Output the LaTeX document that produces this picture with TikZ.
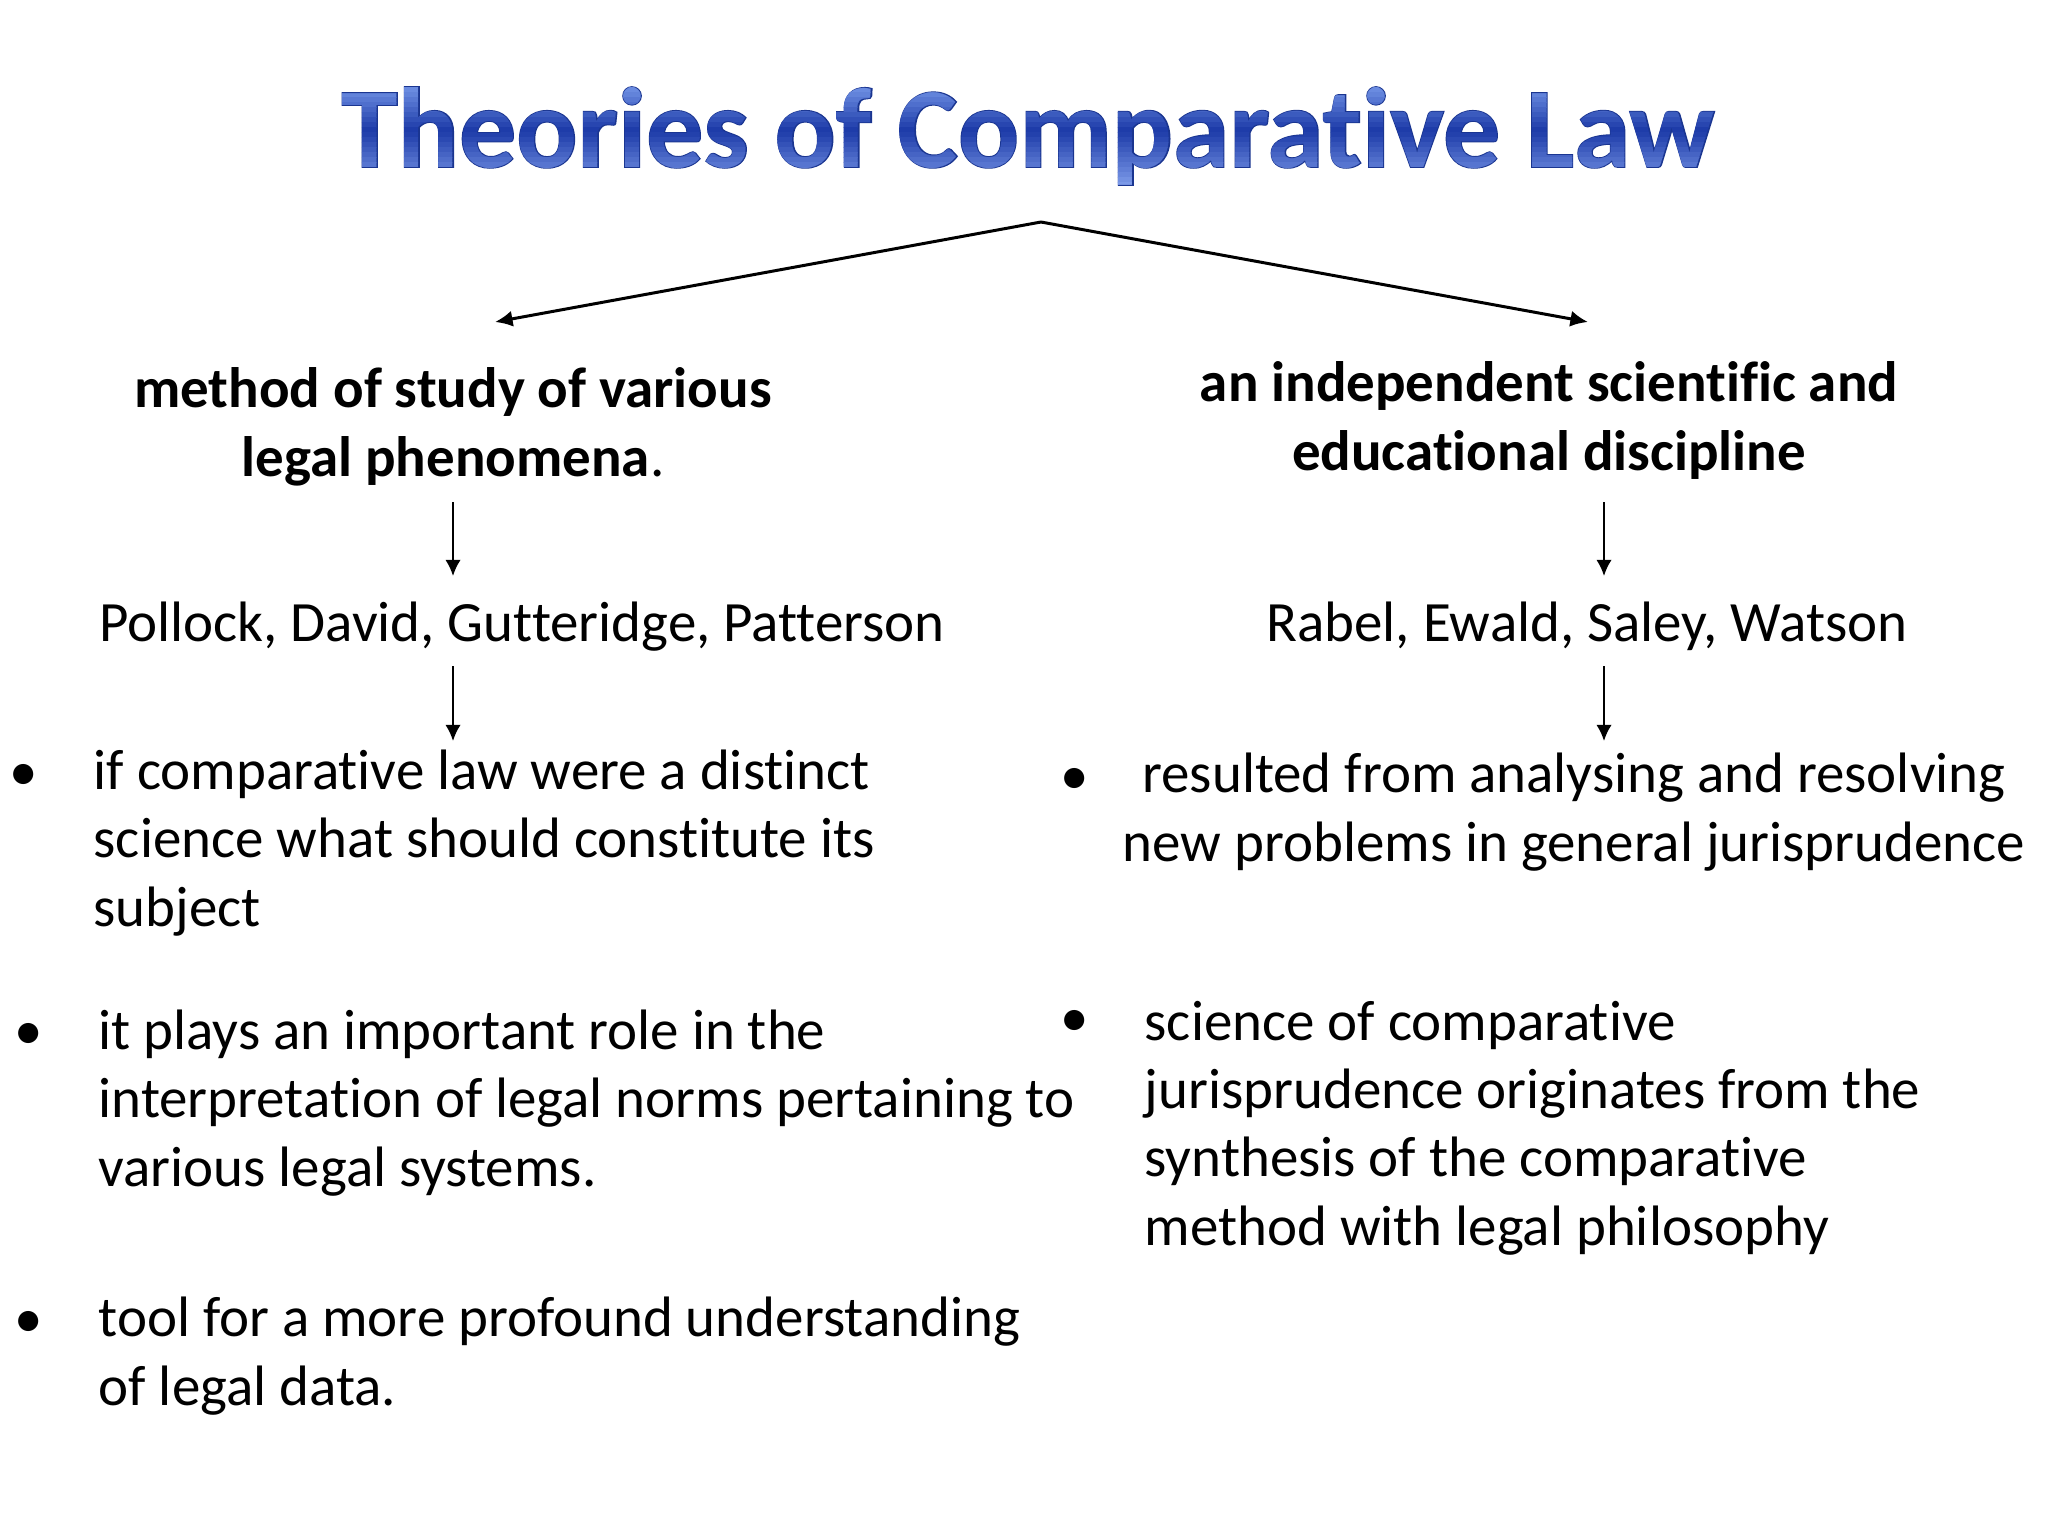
\documentclass[tikz,border=0pt]{standalone}
\usepackage{fontspec}
\setmainfont{Carlito}[Ligatures={NoCommon,NoRare,NoDiscretionary}]
\newfontfamily\titleoutlinefont{Carlito}[Ligatures={NoCommon,NoRare,NoDiscretionary},BoldFeatures={FakeBold=1.6}]
\usetikzlibrary{arrows.meta}
\definecolor{ttop}{HTML}{6A8BE0}
\definecolor{tmid}{HTML}{1C3AA8}
\definecolor{tbot}{HTML}{8AA8F2}
\definecolor{tline}{HTML}{1A3590}
\tikzset{
  titletext/.style={inner sep=0, anchor=base, font=\fontsize{32.4}{40}\selectfont\bfseries},
  body/.style={inner sep=0, font=\fontsize{16.2}{19.35}\selectfont, align=left},
  head/.style={inner sep=0, font=\fontsize{16.2}{19.35}\selectfont\bfseries, align=center, anchor=base},
  bul/.style={inner sep=0, anchor=base, font=\fontsize{16.2}{19.35}\selectfont},
  bigarrow/.style={line width=0.85pt, -{Latex[length=5pt,width=4.6pt]}},
  smallarrow/.style={line width=0.6pt, -{Latex[length=4.6pt,width=4.4pt]}}
}
\begin{document}
\begin{tikzpicture}[x=0.01cm,y=-0.01cm]
\useasboundingbox (0,0) rectangle (2048,1536);
\fill[white] (0,0) rectangle (2048,1536);
% title: outline then banded gradient
\node[titletext, text=tline] (titleoutline) at (1028,167) {\titleoutlinefont\bfseries Theories of Comparative Law};
\foreach \i in {0,...,23} {
  \pgfmathsetmacro\yy{82+5*\i}
  \pgfmathtruncatemacro\pa{max(0,min(100,100*(128-\yy)/40))}
  \pgfmathtruncatemacro\pb{max(0,min(100,100*(\yy-128)/62))}
  \ifnum\pa>0 \colorlet{tc}{ttop!\pa!tmid}\else\colorlet{tc}{tbot!\pb!tmid}\fi
  \begin{scope}
    \clip (300,\yy) rectangle (1760,\yy+5.4);
    \node[titletext, text=tc] (title\i) at (1028,167) {Theories of Comparative Law};
  \end{scope}
}
% branching arrows
\coordinate (peak) at (1041,222);
\coordinate (lend) at (495,322);
\coordinate (rend) at (1588,322);
\draw[bigarrow] (peak) -- (lend);
\draw[bigarrow] (peak) -- (rend);
% headings (anchor base = last line)
\node[head] (lhead) at (453,476) {method of study of various\\legal phenomena\mdseries.};
\node[head] (rhead) at (1549,470) {an independent scientific and\\educational discipline};
% names
\node[bul] (lnames) at (522,641) {Pollock, David, Gutteridge, Patterson};
\node[bul] (rnames) at (1587,641) {Rabel, Ewald, Saley, Watson};
% small arrows
\coordinate (la1) at (453,502); \coordinate (la2) at (453,576);
\coordinate (la3) at (453,666); \coordinate (la4) at (453,741);
\coordinate (ra1) at (1604,502); \coordinate (ra2) at (1604,576);
\coordinate (ra3) at (1604,666); \coordinate (ra4) at (1604,741);
\draw[smallarrow] (la1) -- (la2);
\draw[smallarrow] (la3) -- (la4);
\draw[smallarrow] (ra1) -- (ra2);
\draw[smallarrow] (ra3) -- (ra4);
% left bullets
\node[bul] (lb1) at (24,790) {•};
\node[body, anchor=base west] (l1) at (93,926) {if comparative law were a distinct\\science what should constitute its\\subject};
\node[bul] (lb2) at (29,1049) {•};
\node[body, anchor=base west] (l2) at (98,1186) {it plays an important role in the\\interpretation of legal norms pertaining to\\various legal systems.};
\node[bul] (lb3) at (29,1337) {•};
\node[body, anchor=base west] (l3) at (98,1405) {tool for a more profound understanding\\of legal data.};
% right bullets
\node[bul] (rb1) at (1075,794) {•};
\node[body, align=center, anchor=base] (r1) at (1574,861) {resulted from analysing and resolving\\new problems in general jurisprudence};
\node[bul] (rb2) at (1075,1036) {•};
\node[body, anchor=base west] (r2) at (1144,1245) {science of comparative\\jurisprudence originates from the\\synthesis of the comparative\\method with legal philosophy};
\end{tikzpicture}
\end{document}
